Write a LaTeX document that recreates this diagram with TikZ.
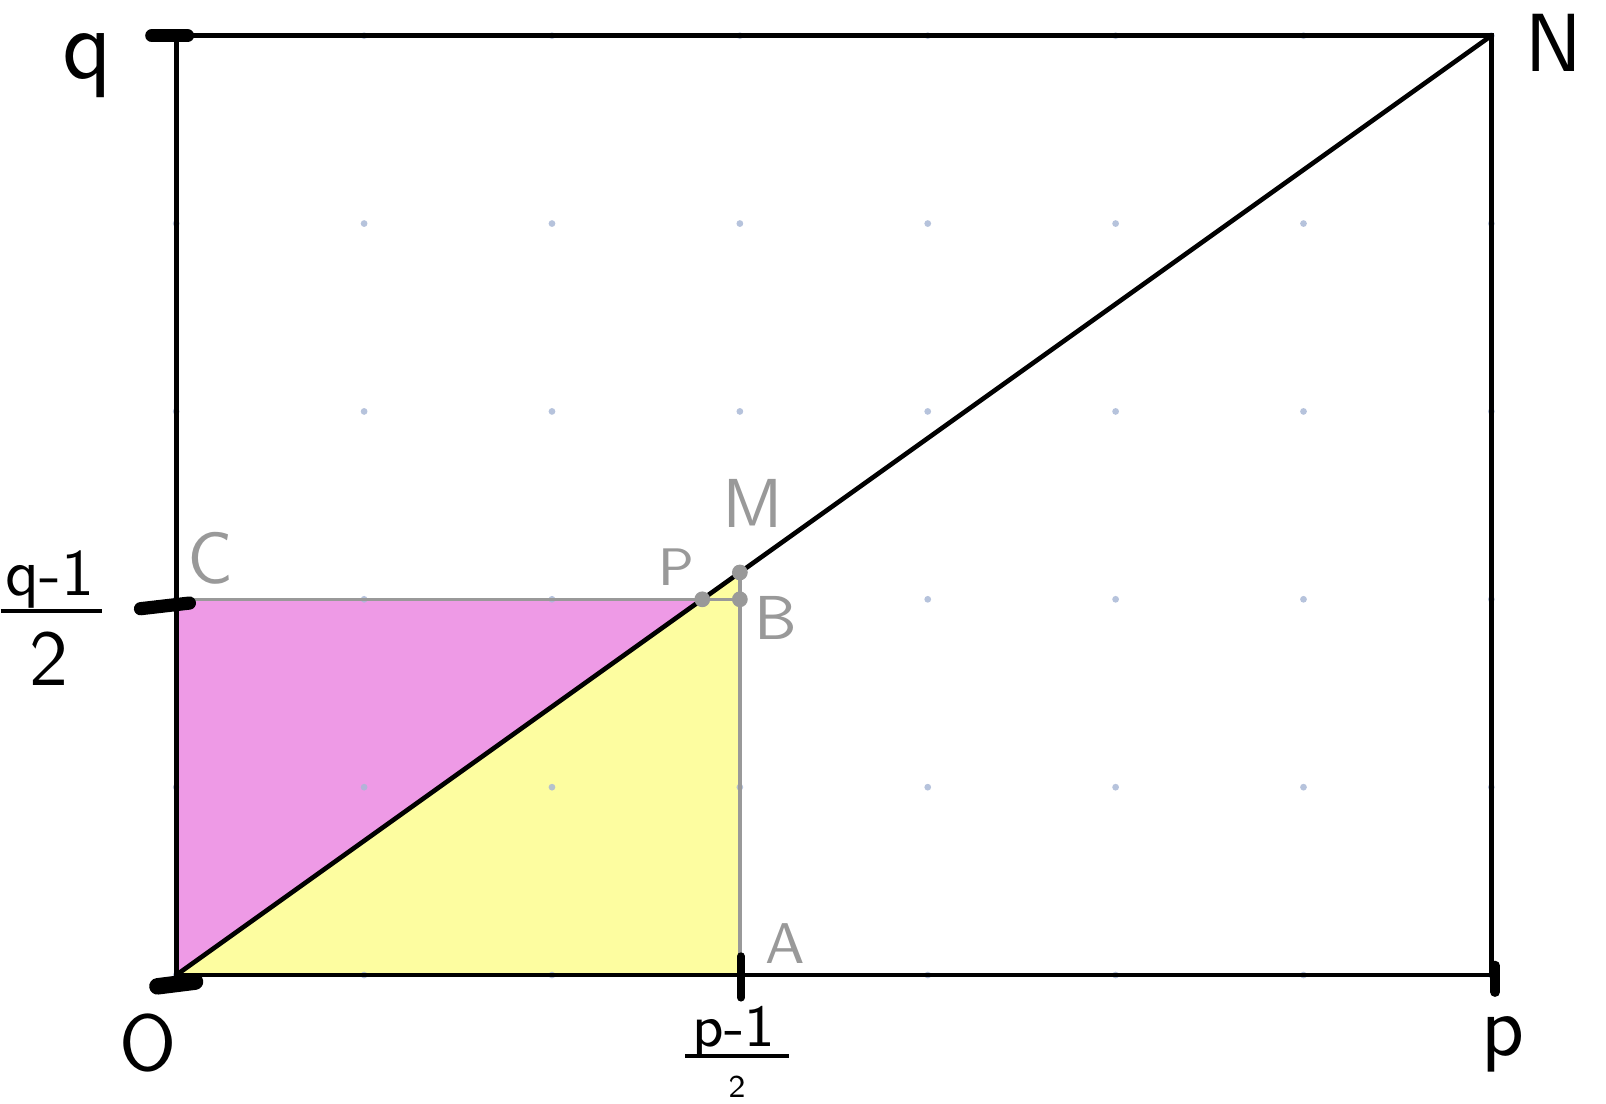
\documentclass[tikz,border=0pt]{standalone}
\usepackage{tikz}
\usetikzlibrary{arrows}

\definecolor{dotblue}{HTML}{A9B8D6}
\definecolor{markgray}{HTML}{999999}
\definecolor{pinkfill}{HTML}{EE9AE6}
\definecolor{yellowfill}{HTML}{FDFDA0}

\tikzset{
  gridpt/.style={fill=dotblue, opacity=.85},
  edgeline/.style={line width=.7pt},
  grayline/.style={markgray, line width=.5pt},
  graypt/.style={fill=markgray},
  tickmark/.style={line width=#1, line cap=round},
  fracbar/.style={line width=.5pt},
  axislabel/.style={font=\sffamily\fontsize{#1}{#1}\selectfont, inner sep=0pt},
  graylabel/.style={text=markgray, font=\sffamily\fontsize{#1}{#1}\selectfont, inner sep=0pt},
}

\begin{document}
\begin{tikzpicture}
\useasboundingbox (-0.938,-0.681) rectangle (7.61,5.19);

\coordinate (O) at (0,0);
\coordinate (A) at (3,0);
\coordinate (B) at (3,2);
\coordinate (C) at (0,2);
\coordinate (P) at (2.8,2);
\coordinate (M) at (3,15/7);
\coordinate (N) at (7,5);

\fill[pinkfill] (O) -- (C) -- (P) -- cycle;
\fill[yellowfill] (O) -- (A) -- (M) -- cycle;

\foreach \x in {0,...,7}
  \foreach \y in {0,...,5}
    \fill[gridpt] (\x,\y) circle(.018);

\draw[grayline] (C) -- (B) -- (A);
\draw[grayline] (B) -- (M);

\draw[edgeline] (O) rectangle (N);
\draw[edgeline] (O) -- (N);

% ticks
\draw[tickmark=2pt] (-0.13,5) -- (0.06,5);
\draw[tickmark=2pt] (-0.19,1.95) -- (0.07,1.98);
\draw[tickmark=2.5pt] (-0.1,-0.06) -- (0.1,-0.035);
\draw[tickmark=1.2pt] (3.006,0.1) -- (3.006,-0.12);
\draw[tickmark=1.5pt] (7.02,0.05) -- (7.02,-0.09);

\fill[graypt] (P) circle(.042);
\fill[graypt] (B) circle(.042);
\fill[graypt] (M) circle(.042);

% labels
\node[axislabel=15] (qlab) at (-0.475,4.84) {q};
\node[axislabel=12] (olab) at (-0.15,-0.36) {O};
\node[axislabel=13] (plab) at (7.06,-0.367) {p};
\node[axislabel=12.5] (nlab) at (7.33,4.96) {N};

\coordinate (qbar) at (-0.665,1.937);
\draw[fracbar] ([xshift=-.27cm]qbar) -- ([xshift=.27cm]qbar);
\node[axislabel=10, anchor=base] (qnum) at (-0.67,2.02) {q-1};
\node[axislabel=12, anchor=base] (qden) at (-0.68,1.54) {2};

\coordinate (pbar) at (2.985,-0.43);
\draw[fracbar] ([xshift=-.277cm]pbar) -- ([xshift=.277cm]pbar);
\node[axislabel=9, anchor=base] (pnum) at (2.97,-0.38) {p-1};
\node[axislabel=4.8, anchor=base] (pden) at (2.985,-0.65) {2};

\node[graylabel=10.5] (mlab) at (3.07,2.51) {M};
\node[graylabel=8] (plab2) at (2.66,2.17) {P};
\node[graylabel=9.4] (blab) at (3.19,1.90) {B};
\node[graylabel=11] (clab) at (0.18,2.22) {C};
\node[graylabel=8.7] (alab) at (3.24,0.17) {A};

\end{tikzpicture}
\end{document}
